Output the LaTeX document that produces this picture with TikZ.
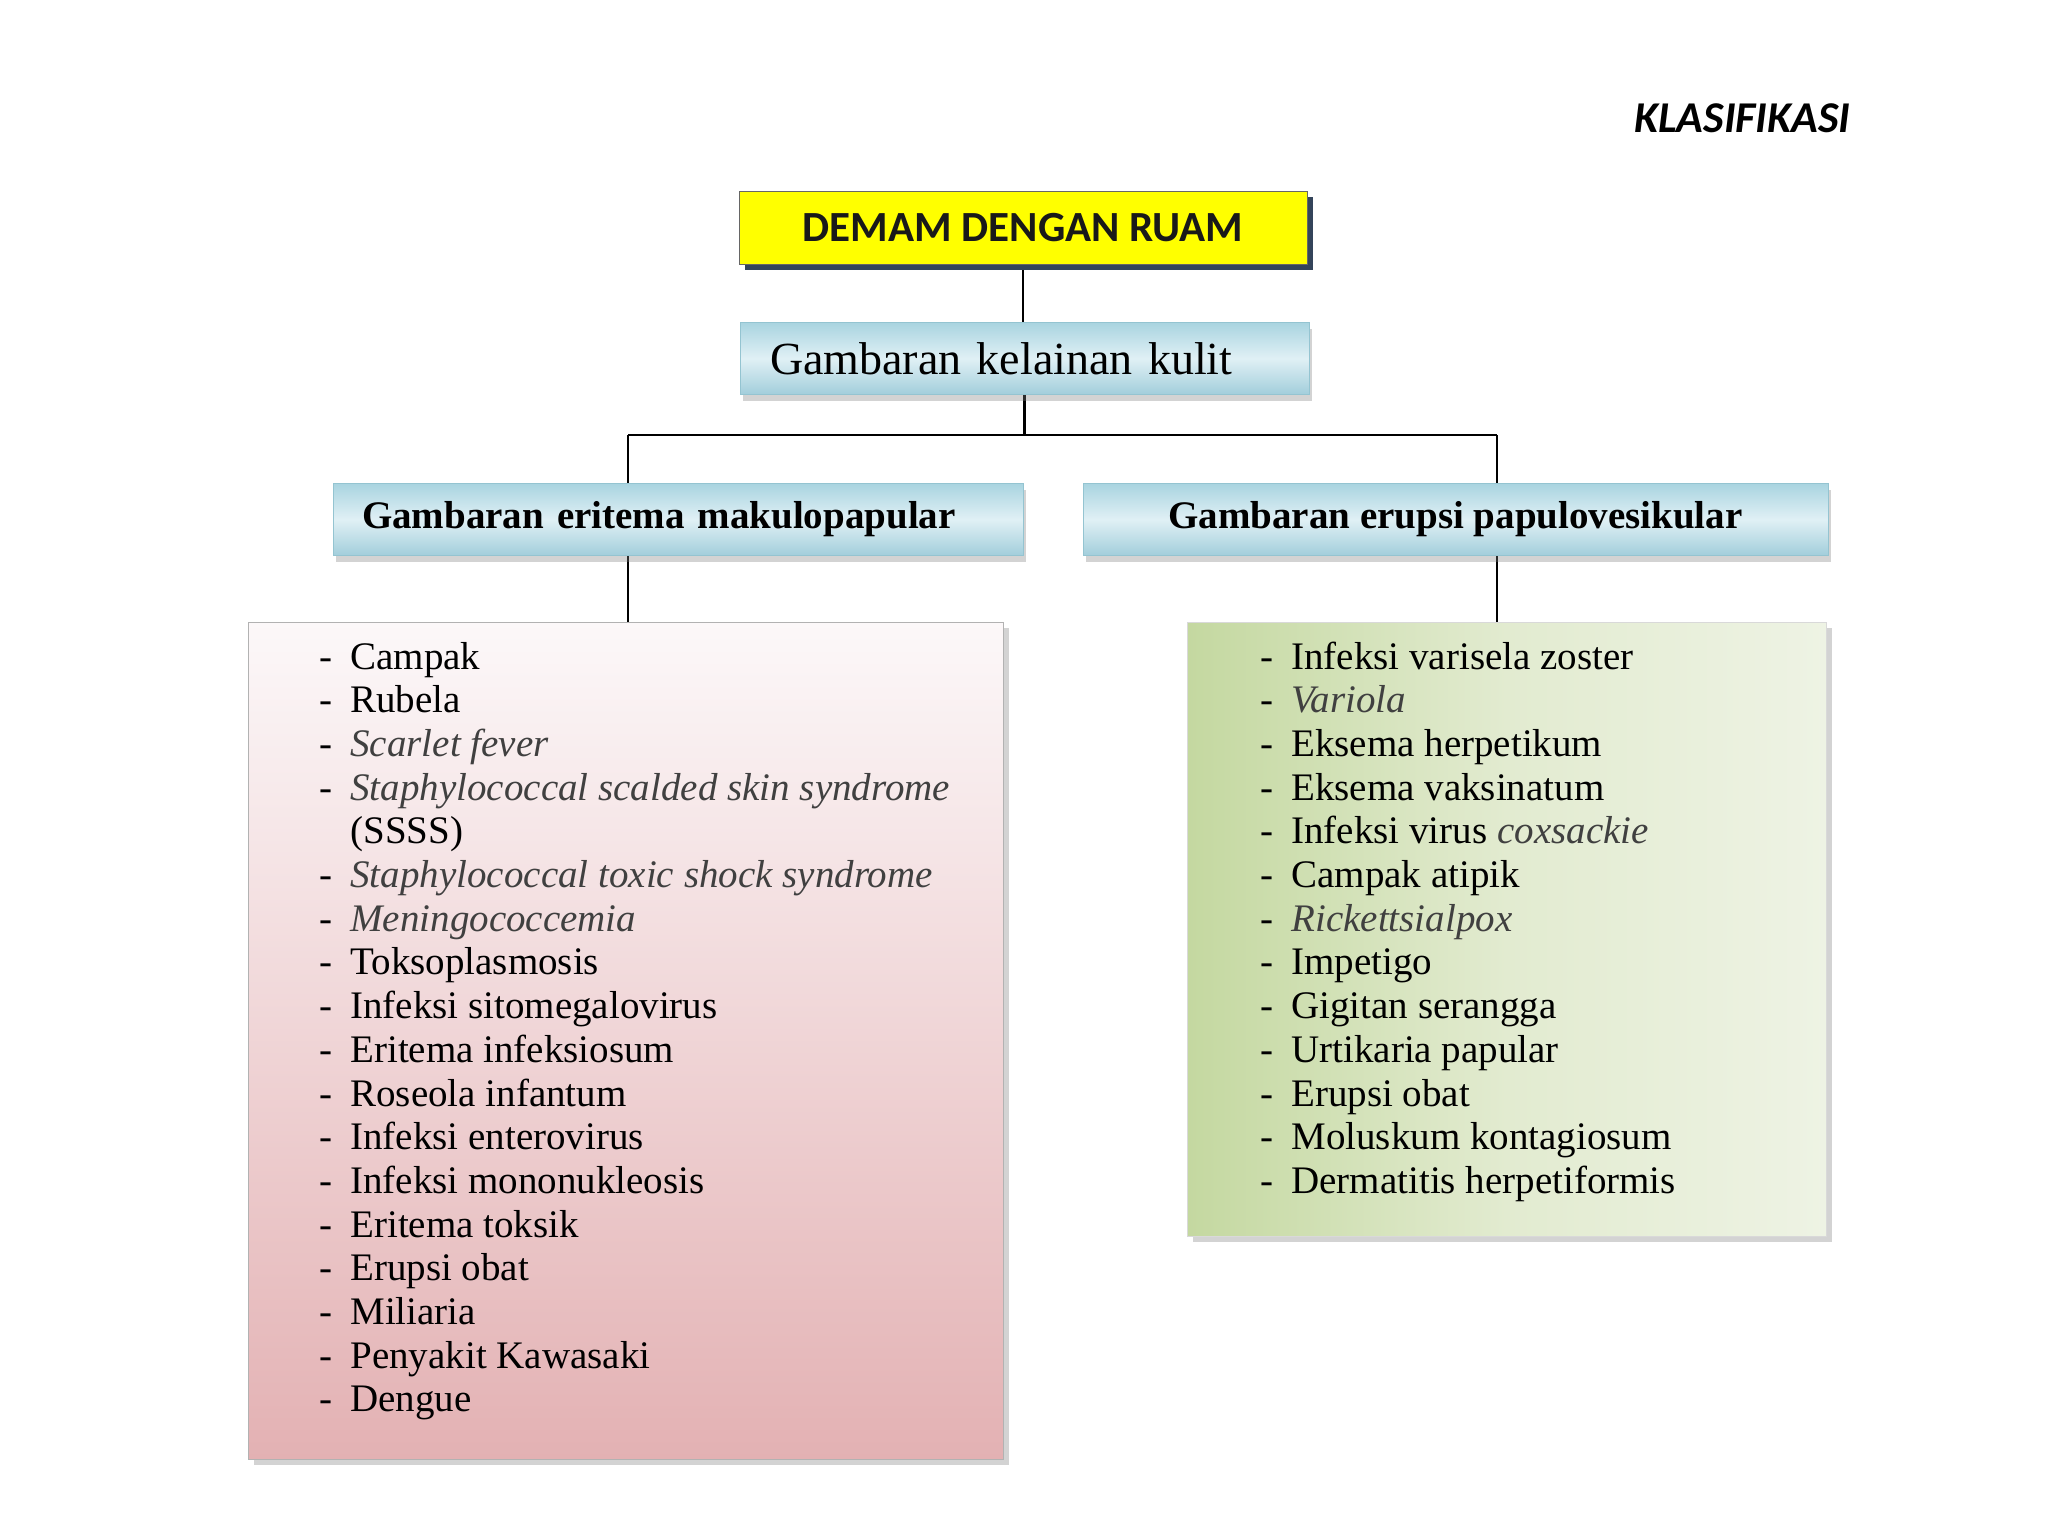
\documentclass[tikz,border=0pt]{standalone}
\usepackage{fontspec}
\setmainfont{Liberation Serif}
\newfontfamily\carlito{Carlito}
\usepackage{tikz}
\usetikzlibrary{positioning, shadows, backgrounds}
\definecolor{kuning}{HTML}{FFFF00}
\definecolor{bayang}{HTML}{34445A}
\definecolor{biruA}{HTML}{A9D4E0}
\definecolor{biruB}{HTML}{A2CEDB}
\definecolor{biruC}{HTML}{E0F0F5}
\definecolor{biruGaris}{HTML}{94C4D1}
\definecolor{merahA}{HTML}{FCF8F9}
\definecolor{merahB}{HTML}{E3B1B3}
\definecolor{hijauA}{HTML}{EEF3E4}
\definecolor{hijauB}{HTML}{C4D8A0}
\definecolor{hijauC}{HTML}{E2EBD0}
\newcommand{\itm}[1]{\makebox[15.5pt][l]{-}#1\\}
\newcommand{\lanj}[1]{\hspace*{15.5pt}#1\\}
\newcommand{\mir}[1]{{\itshape\color{black!75}#1}}

\begin{document}
\begin{tikzpicture}[x=0.5pt, y=-0.5pt,
        judul/.style={rectangle, draw=black!60, fill=kuning, minimum width=284pt, minimum height=36.5pt, inner sep=0pt, font=\carlito\bfseries\fontsize{21.5}{26}\selectfont, text=black!90, drop shadow={shadow xshift=3pt, shadow yshift=-3pt, fill=bayang, opacity=1}},
        sub/.style={rectangle, draw=biruGaris, top color=biruA, bottom color=biruB, middle color=biruC, minimum height=36pt, inner ysep=0pt, drop shadow={shadow xshift=1.5pt, shadow yshift=-3pt, opacity=.35}},
        daftar/.style={rectangle, draw=black!30, drop shadow={shadow xshift=3pt, shadow yshift=-3pt, opacity=.35}},
        isi/.style={anchor=base west, inner sep=0pt, font=\fontsize{19.5}{21.85}\selectfont}]

        \useasboundingbox (0,0) rectangle (2048,1536);

        % Judul halaman
        \node[font=\carlito\bfseries\itshape\fontsize{22}{26}\selectfont, anchor=east, inner sep=0pt] (klas) at (1851,118) {KLASIFIKASI};

        % Tingkat 1
        \node[judul] (demam) at (1023,227.5) {DEMAM DENGAN RUAM};
        \node[sub, text width=254.5pt, inner xsep=15pt, align=left, font=\fontsize{23}{27}\selectfont] (kulit) at (1024.5,358.5) {Gambaran kelainan kulit};

        % Tingkat 2
        \node[sub, text width=316pt, inner xsep=14.5pt, align=left, font=\bfseries\fontsize{19.5}{23}\selectfont] (eritema) at (678,519.5) {Gambaran eritema makulopapular};
        \node[sub, minimum width=372.5pt, font=\bfseries\fontsize{19.5}{23}\selectfont] (erupsi) at (1455.5,519.5) {Gambaran erupsi papulovesikular};

        % Kotak daftar
        \node[daftar, top color=merahA, bottom color=merahB, minimum width=377.5pt, minimum height=418.5pt] (listL) at (625.5,1040.5) {};
        \node[daftar, draw=black!15, left color=hijauB, right color=hijauA, middle color=hijauC, minimum width=319.5pt, minimum height=307pt] (listR) at (1506.5,929) {};

        \node[isi] (isiL) at (319,669) {\begin{tabular}[t]{@{}l@{}}
            \itm{Campak}
            \itm{Rubela}
            \itm{\mir{Scarlet fever}}
            \itm{\mir{Staphylococcal scalded skin syndrome}}
            \lanj{(SSSS)}
            \itm{\mir{Staphylococcal toxic shock syndrome}}
            \itm{\mir{Meningococcemia}}
            \itm{Toksoplasmosis}
            \itm{Infeksi sitomegalovirus}
            \itm{Eritema infeksiosum}
            \itm{Roseola infantum}
            \itm{Infeksi enterovirus}
            \itm{Infeksi mononukleosis}
            \itm{Eritema toksik}
            \itm{Erupsi obat}
            \itm{Miliaria}
            \itm{Penyakit Kawasaki}
            \itm{Dengue}
        \end{tabular}};

        \node[isi] (isiR) at (1260,669) {\begin{tabular}[t]{@{}l@{}}
            \itm{Infeksi varisela zoster}
            \itm{\mir{Variola}}
            \itm{Eksema herpetikum}
            \itm{Eksema vaksinatum}
            \itm{Infeksi virus \mir{coxsackie}}
            \itm{Campak atipik}
            \itm{\mir{Rickettsialpox}}
            \itm{Impetigo}
            \itm{Gigitan serangga}
            \itm{Urtikaria papular}
            \itm{Erupsi obat}
            \itm{Moluskum kontagiosum}
            \itm{Dermatitis herpetiformis}
        \end{tabular}};

        % Garis penghubung
        \coordinate (cabL) at (628,435);
        \coordinate (cabR) at (1497,435);
        \begin{scope}[on background layer]
            \draw[line width=1.1pt] (demam.south) -- (demam.south |- kulit.north);
            \draw[line width=1.1pt] (kulit.south) -- (kulit.south |- cabL);
            \draw[line width=1.1pt] (cabL) -- (cabR);
            \draw[line width=1.1pt] (cabL) -- (cabL |- listL.north);
            \draw[line width=1.1pt] (cabR) -- (cabR |- listR.north);
        \end{scope}
    \end{tikzpicture}
\end{document}
